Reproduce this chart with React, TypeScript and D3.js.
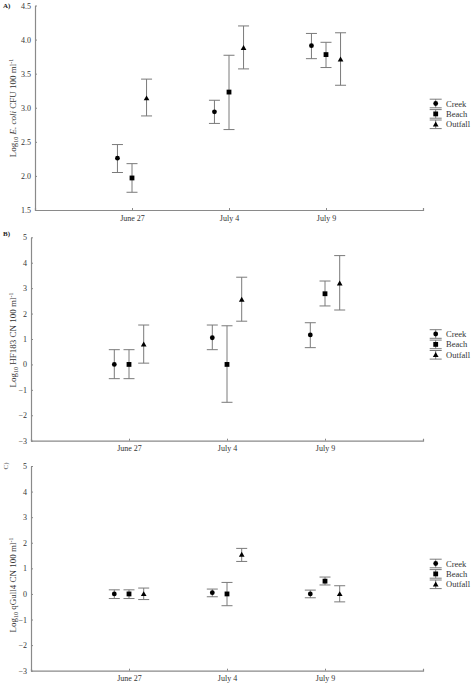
import React, { useRef, useEffect } from 'react';
import * as d3 from 'd3';

// ─── data ────────────────────────────────────────────────────

const dates = ['June 27', 'July 4', 'July 9'];
const sites = ['Creek', 'Beach', 'Outfall'];

// A) E. coli (log10 CFU / 100 ml), rows = site, cols = date
const ecoliMean = [[2.26, 2.94, 3.91], [1.97, 3.23, 3.78], [3.14, 3.88, 3.71]];
const ecoliLow  = [[2.05, 2.77, 3.72], [1.76, 2.68, 3.59], [2.88, 3.57, 3.33]];
const ecoliHigh = [[2.46, 3.11, 4.09], [2.18, 3.77, 3.96], [3.42, 4.20, 4.10]];

// B) HF183 (log10 CN / 100 ml)
const hfMean = [[0, 1.05, 1.16], [0, 0, 2.78], [0.79, 2.55, 3.19]];
const hfLow  = [[-0.56, 0.58, 0.66], [-0.56, -1.49, 2.30], [0.05, 1.70, 2.14]];
const hfHigh = [[0.58, 1.55, 1.64], [0.58, 1.52, 3.28], [1.55, 3.43, 4.28]];

// C) qGull4 (log10 CN / 100 ml)
const gullMean = [[0, 0.05, 0], [0, 0, 0.50], [0, 1.54, 0]];
const gullLow  = [[-0.18, -0.11, -0.15], [-0.18, -0.46, 0.35], [-0.22, 1.27, -0.31]];
const gullHigh = [[0.16, 0.19, 0.15], [0.16, 0.45, 0.66], [0.23, 1.78, 0.32]];

const ticksA = [1.5, 2.0, 2.5, 3.0, 3.5, 4.0, 4.5];
const ticksBC = [-3, -2, -1, 0, 1, 2, 3, 4, 5];

// ─── panel layout ────────────────────────────────────────────

interface Panel {
  tag: string;
  tagRotate: boolean;
  mean: number[][];
  low: number[][];
  high: number[][];
  yDomain: [number, number];
  yTicks: number[];
  yFmt: (v: number) => string;
  label: string[];           // [before sub, sub, mid (italic?), after, sup]
  italic?: string;
  x0: number; x1: number;
  yTop: number; yBot: number;
  labelY: number;
  legendY: number;
}

const panels: Panel[] = [
  {
    tag: 'A)', tagRotate: false,
    mean: ecoliMean, low: ecoliLow, high: ecoliHigh,
    yDomain: [1.5, 4.5], yTicks: ticksA, yFmt: d3.format('.1f'),
    label: ['Log', '10', ' ', ' CFU 100 ml', '-1'], italic: 'E. coli',
    x0: 35, x1: 423, yTop: 5.5, yBot: 210, labelY: 108, legendY: 103.5,
  },
  {
    tag: 'B)', tagRotate: false,
    mean: hfMean, low: hfLow, high: hfHigh,
    yDomain: [-3, 5], yTicks: ticksBC, yFmt: d3.format('d'),
    label: ['Log', '10', ' HF183 CN 100 ml', '', '-1'],
    x0: 31, x1: 423, yTop: 237.3, yBot: 440.7, labelY: 340, legendY: 334,
  },
  {
    tag: 'C)', tagRotate: true,
    mean: gullMean, low: gullLow, high: gullHigh,
    yDomain: [-3, 5], yTicks: ticksBC, yFmt: d3.format('d'),
    label: ['Log', '10', ' qGull4 CN 100 ml', '', '-1'],
    x0: 31, x1: 423, yTop: 466, yBot: 670.7, labelY: 585, legendY: 563.5,
  },
];

const W = 474;
const H = 685;
const AXIS = '#8a8a8a';
const BAR = '#7a7a7a';
const FONT = '"Liberation Serif", "Times New Roman", serif';
const OFFSETS = [-0.15, 0, 0.15];
const CAP = 5.5;

function drawMarker(
  g: d3.Selection<SVGGElement, unknown, null, undefined>,
  kind: number, cx: number, cy: number
) {
  if (kind === 0) {
    g.append('circle').attr('cx', cx).attr('cy', cy).attr('r', 2.4).attr('fill', '#000');
  } else if (kind === 1) {
    g.append('rect').attr('x', cx - 2.4).attr('y', cy - 2.4)
      .attr('width', 4.8).attr('height', 4.8).attr('fill', '#000');
  } else {
    g.append('path')
      .attr('d', d3.symbol(d3.symbolTriangle, 14)())
      .attr('transform', `translate(${cx},${cy + 0.5})`)
      .attr('fill', '#000');
  }
}

// ─── component ───────────────────────────────────────────────

export default function App() {
  const svgRef = useRef<SVGSVGElement>(null);

  useEffect(() => {
    if (!svgRef.current) return;
    const svg = d3.select(svgRef.current);
    svg.selectAll('*').remove();

    panels.forEach((p) => {
      const g = svg.append('g');
      const x = d3.scaleLinear().domain([0, 4]).range([p.x0, p.x1]);
      const y = d3.scaleLinear().domain(p.yDomain).range([p.yBot, p.yTop]);

      // axes
      const yAxis = g.append('g')
        .attr('transform', `translate(${p.x0},0)`)
        .call(d3.axisLeft(y).tickValues(p.yTicks).tickFormat(p.yFmt as any)
          .tickSizeInner(-2).tickSizeOuter(0).tickPadding(4));
      const xAxis = g.append('g')
        .attr('transform', `translate(0,${p.yBot})`)
        .call(d3.axisBottom(x).tickValues([1, 2, 3])
          .tickFormat((d) => dates[(d as number) - 1])
          .tickSizeInner(-2).tickSizeOuter(-2).tickPadding(5));
      [yAxis, xAxis].forEach((a) => {
        a.select('.domain').attr('stroke', AXIS).attr('stroke-width', 1.2);
        a.selectAll('.tick line').attr('stroke', AXIS);
        a.selectAll('.tick text')
          .attr('fill', '#333').attr('font-size', 8).attr('font-family', FONT);
      });

      // error bars + markers
      sites.forEach((_, s) => {
        dates.forEach((__, d) => {
          const cx = x(d + 1 + OFFSETS[s]);
          const yh = y(p.high[s][d]);
          const yl = y(p.low[s][d]);
          g.append('line').attr('x1', cx).attr('x2', cx).attr('y1', yh).attr('y2', yl)
            .attr('stroke', BAR).attr('stroke-width', 1);
          [yh, yl].forEach((yy) => {
            g.append('line').attr('x1', cx - CAP).attr('x2', cx + CAP)
              .attr('y1', yy).attr('y2', yy)
              .attr('stroke', BAR).attr('stroke-width', 1);
          });
          drawMarker(g, s, cx, y(p.mean[s][d]));
        });
      });

      // legend
      sites.forEach((name, s) => {
        const cy = p.legendY + s * 10.4;
        const lx = 435.7;
        g.append('line').attr('x1', lx).attr('x2', lx).attr('y1', cy - 4.3).attr('y2', cy + 4.3)
          .attr('stroke', BAR);
        [cy - 4.3, cy + 4.3].forEach((yy) => {
          g.append('line').attr('x1', lx - 6).attr('x2', lx + 6).attr('y1', yy).attr('y2', yy)
            .attr('stroke', BAR);
        });
        drawMarker(g, s, lx, cy);
        g.append('text').attr('x', 446).attr('y', cy + 3)
          .attr('font-size', 8.5).attr('font-family', FONT).attr('fill', '#333')
          .text(name);
      });

      // y label
      const t = g.append('text')
        .attr('transform', `translate(16,${p.labelY}) rotate(-90)`)
        .attr('text-anchor', 'middle')
        .attr('font-size', 9).attr('font-family', FONT).attr('fill', '#333');
      t.append('tspan').text(p.label[0]);
      t.append('tspan').attr('font-size', 6).attr('dy', 2).text(p.label[1]);
      t.append('tspan').attr('dy', -2).text(p.label[2]);
      if (p.italic) t.append('tspan').attr('font-style', 'italic').text(p.italic);
      if (p.label[3]) t.append('tspan').text(p.label[3]);
      t.append('tspan').attr('font-size', 6).attr('dy', -3.5).text(p.label[4]);

      // panel tag
      if (p.tagRotate) {
        g.append('text')
          .attr('transform', `translate(8,${p.yTop}) rotate(-90)`)
          .attr('text-anchor', 'middle')
          .attr('font-size', 7).attr('font-family', FONT).attr('fill', '#555')
          .text(p.tag);
      } else {
        g.append('text')
          .attr('x', 3).attr('y', p.tag === 'A)' ? 7.5 : 236)
          .attr('font-size', 7).attr('font-weight', 'bold')
          .attr('font-family', FONT).attr('fill', '#222')
          .text(p.tag);
      }
    });
  }, []);

  return (
    <svg
      ref={svgRef}
      width={W}
      height={H}
      style={{ position: 'absolute', left: 0, top: 0, background: '#fff' }}
    />
  );
}
